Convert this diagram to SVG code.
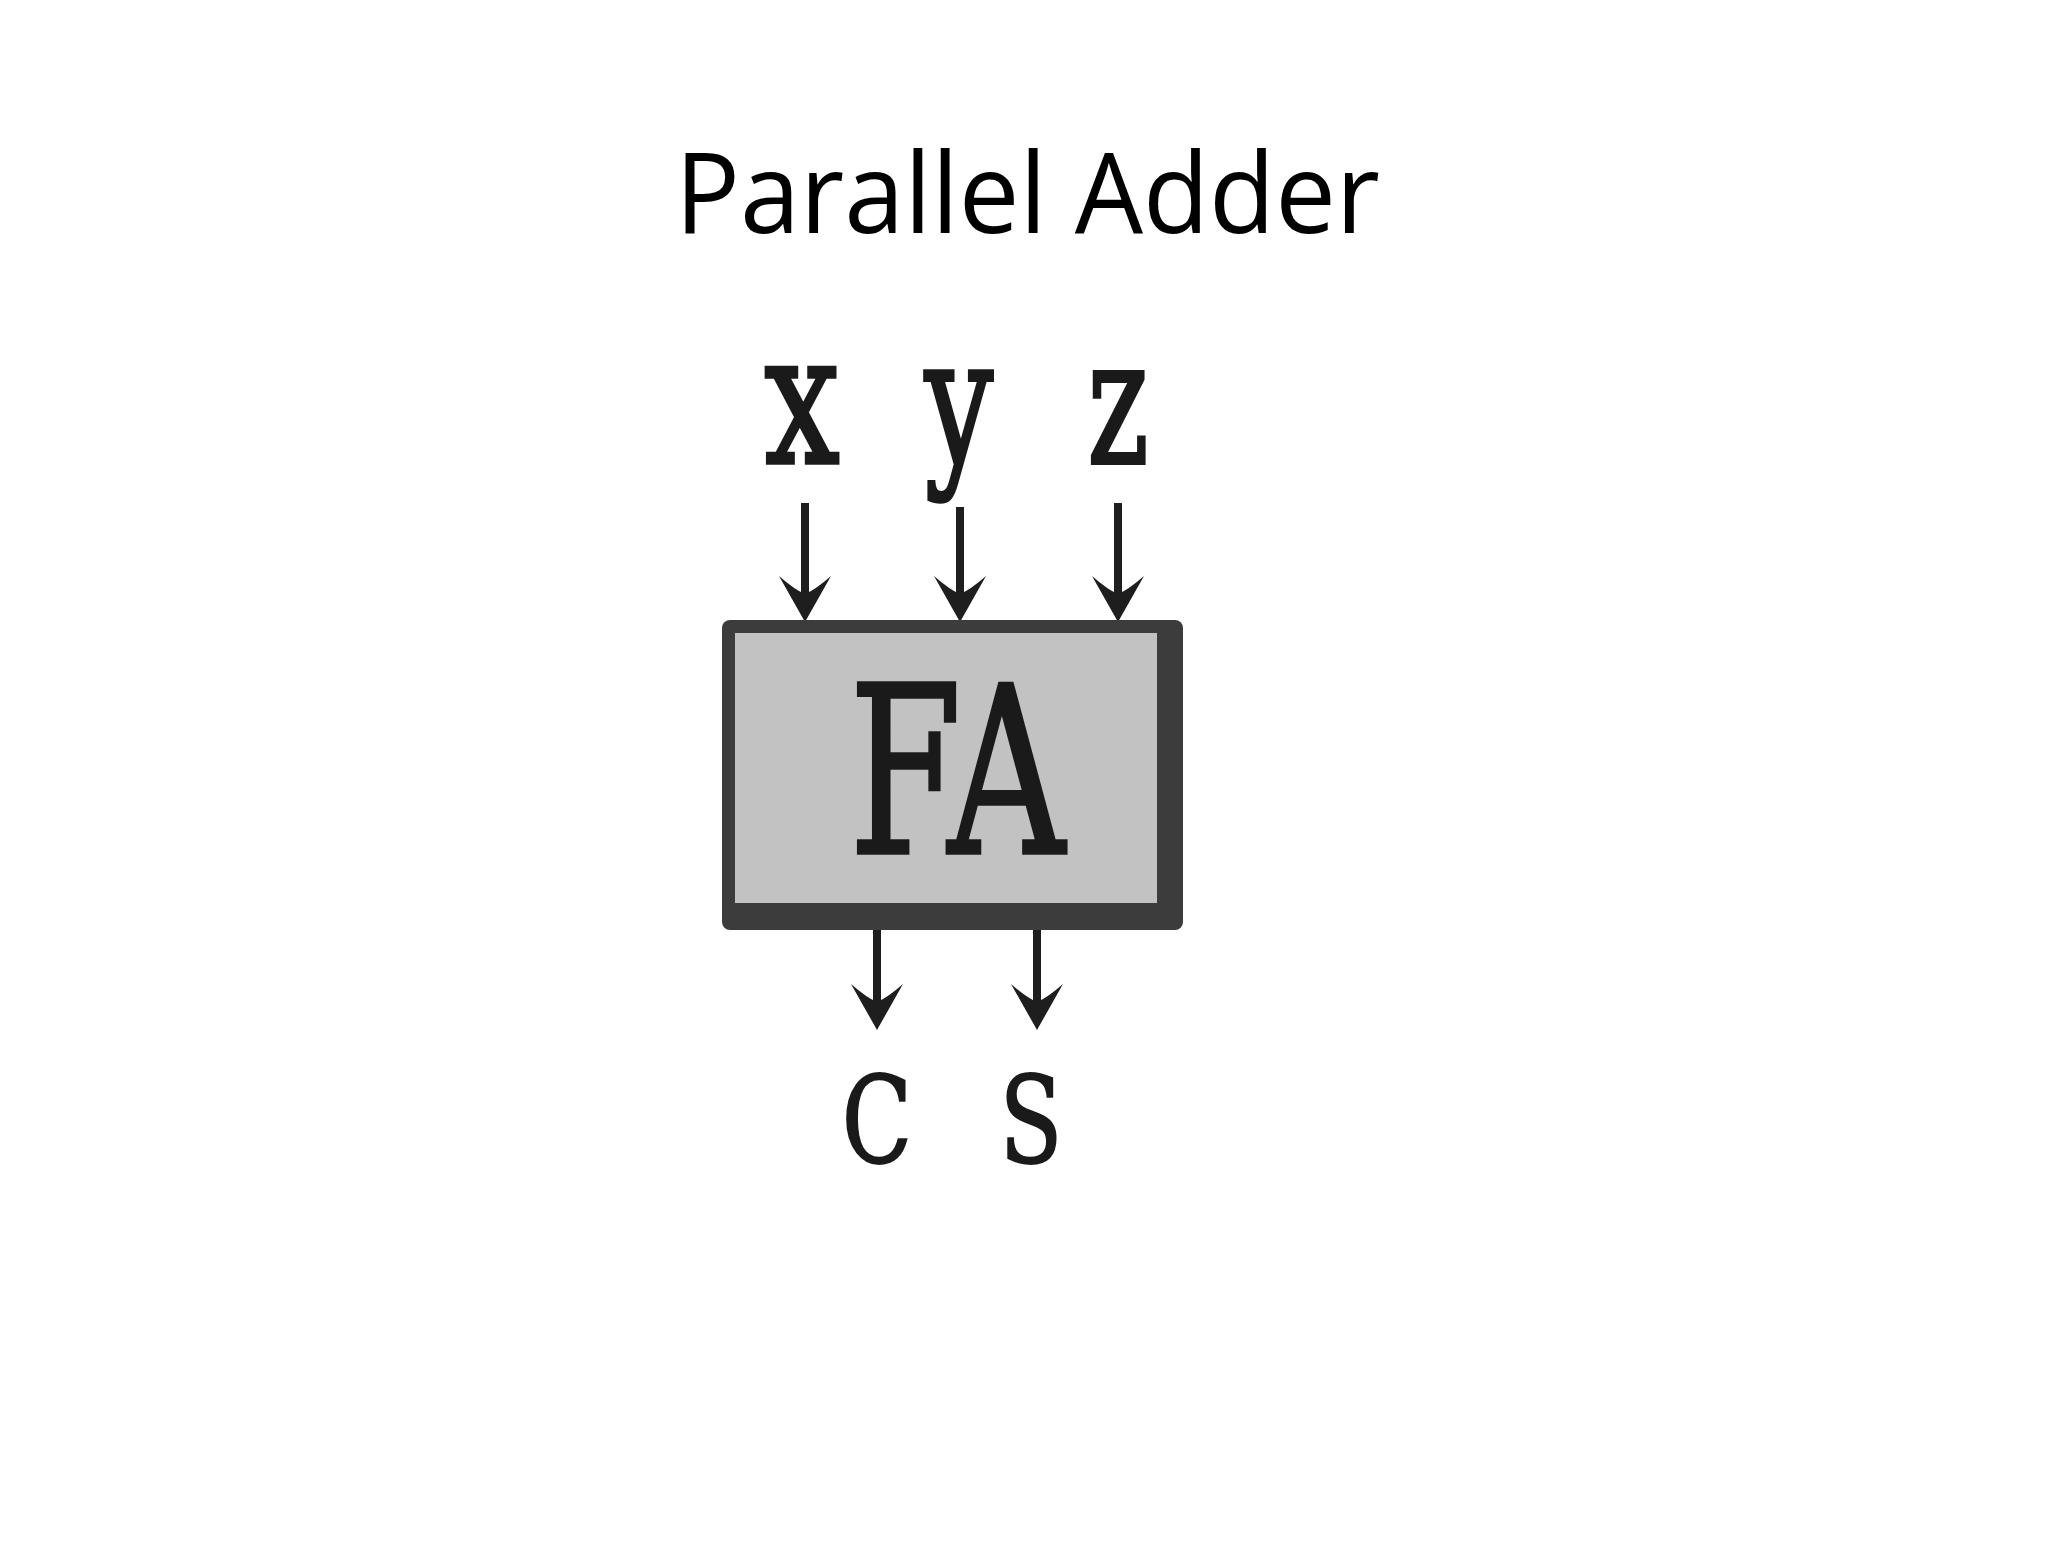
<svg xmlns="http://www.w3.org/2000/svg" width="2048" height="1554" viewBox="0 0 2048 1554">
<style>
.title{font-family:"Open Sans","Liberation Sans",sans-serif;font-size:112px;fill:#000}
.lbl{font-family:"DejaVu Serif","Liberation Serif",serif;fill:#1a1a1a;text-anchor:middle;stroke:#1a1a1a;stroke-width:2.5}
.thin{stroke-width:1.5}
.wire{stroke:#1e1e1e;stroke-width:8;fill:none}
</style>
<defs>
<path id="head" d="M0,0 L-26,-46 Q-10,-32 0,-28 Q10,-32 26,-46 Z" fill="#1e1e1e"/>
</defs>
<rect width="2048" height="1554" fill="#fff"/>
<text class="title" x="675" y="233" textLength="705" lengthAdjust="spacingAndGlyphs">Parallel Adder</text>
<g id="connectors">
<line class="wire" x1="805" y1="503" x2="805" y2="610"/>
<use href="#head" x="805" y="622"/>
<line class="wire" x1="960" y1="507" x2="960" y2="610"/>
<use href="#head" x="960" y="622"/>
<line class="wire" x1="1118" y1="503" x2="1118" y2="610"/>
<use href="#head" x="1118" y="622"/>
<line class="wire" x1="877" y1="930" x2="877" y2="1018"/>
<use href="#head" x="877" y="1030"/>
<line class="wire" x1="1037" y1="930" x2="1037" y2="1018"/>
<use href="#head" x="1037" y="1030"/>
</g>
<g id="fa">
<rect x="722" y="620" width="461" height="310" rx="8" fill="#3c3c3c"/>
<rect x="735" y="633" width="422" height="270" fill="#c2c2c2"/>
<text class="lbl" transform="translate(957,853) scale(1,1.44)" font-size="162">FA</text>
</g>
<g id="inputs">
<text class="lbl" transform="translate(802,463) scale(1,1.37)" font-size="134">x</text>
<text class="lbl" transform="translate(959,463) scale(1,1.45)" font-size="121">y</text>
<text class="lbl" transform="translate(1118,463) scale(1,1.52)" font-size="116">z</text>
</g>
<g id="outputs">
<text class="lbl thin" transform="translate(877,1162) scale(1,1.3)" font-size="92">C</text>
<text class="lbl thin" transform="translate(1031,1162) scale(1,1.3)" font-size="92">S</text>
</g>
</svg>
